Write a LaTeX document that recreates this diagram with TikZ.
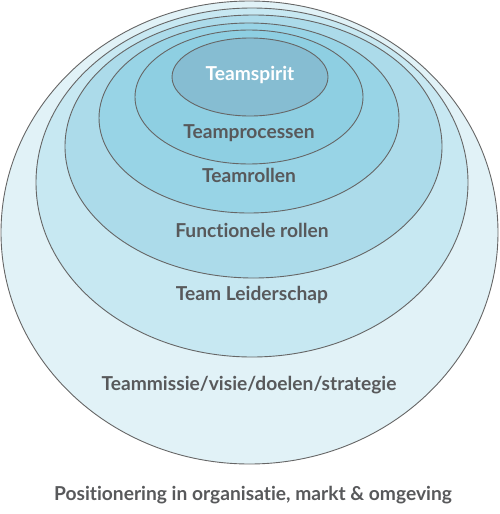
\documentclass[tikz,border=0pt]{standalone}
\usepackage{fontspec}
\setmainfont{Lato}[Ligatures=NoCommon]
\usepackage{tikz}
\usetikzlibrary{positioning}

\definecolor{ringline}{HTML}{666666}
\definecolor{labelgrey}{HTML}{58595B}
\definecolor{ringA}{HTML}{E1F2F7}
\definecolor{ringB}{HTML}{C7E8F2}
\definecolor{ringC}{HTML}{ACDBEA}
\definecolor{ringD}{HTML}{98D4E6}
\definecolor{ringE}{HTML}{8ECFE2}
\definecolor{ringF}{HTML}{86BDD2}

\begin{document}
\begin{tikzpicture}[x=1pt,y=-1pt,
	ring/.style={draw=ringline, line width=0.9pt},
	lbl/.style={text=labelgrey, font=\bfseries\fontsize{19.2}{23}\selectfont}]
	\useasboundingbox (0,0) rectangle (499,514);
	\draw[ring, fill=ringA] (249.5,232.5) ellipse [x radius=248.5, y radius=231.5];
	\draw[ring, fill=ringB] (252,182.5) ellipse [x radius=216, y radius=174.5];
	\draw[ring, fill=ringC] (253.5,146.5) ellipse [x radius=188.5, y radius=131.5];
	\draw[ring, fill=ringD] (249,118) ellipse [x radius=150, y radius=95];
	\draw[ring, fill=ringE] (249,97) ellipse [x radius=114, y radius=67];
	\draw[ring, fill=ringF] (250,77) ellipse [x radius=78, y radius=39];
	\path (250,75) node (spirit) [lbl, text=white] {Teamspirit}
		  (249,133) node (processen) [lbl] {Teamprocessen}
		  (249,175) node (rollen) [lbl] {Teamrollen}
		  (252,230) node (functioneel) [lbl] {Functionele rollen}
		  (252,295) node (leiderschap) [lbl] {Team Leiderschap}
		  (249,385) node (missie) [lbl] {Teammissie/visie/doelen/strategie}
		  (253,495) node (positie) [lbl] {Positionering in organisatie, markt \& omgeving};
\end{tikzpicture}
\end{document}
